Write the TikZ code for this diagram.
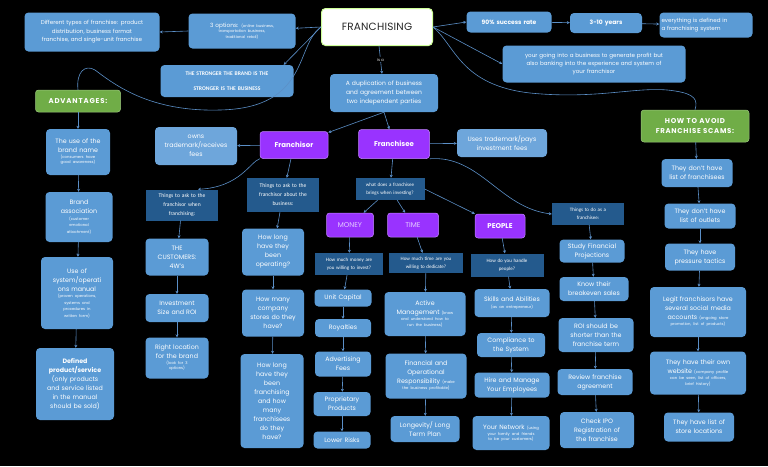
\documentclass[tikz,border=0pt]{standalone}
\usepackage{fontspec}
\setmainfont{Poppins}
\newfontfamily\calibfont{Carlito}
\usepackage{tikz}
\usetikzlibrary{arrows.meta}
\definecolor{boxblue}{HTML}{5B9BD5}
\definecolor{paleblue}{HTML}{6EA6DB}
\definecolor{darkblue}{HTML}{245A8D}
\definecolor{franpurple}{HTML}{9933FF}
\definecolor{advgreen}{HTML}{70AD47}
\definecolor{linkblue}{HTML}{5B8FC7}
\newcommand{\fsz}[2]{\fontsize{#1}{#2}\selectfont}
\newcommand{\notefont}{\fsz{3.8}{5}}

\begin{document}
\begin{tikzpicture}[x=1pt, y=-1pt,
    box/.style={rectangle, rounded corners=4pt, fill=boxblue, text=white,
                align=center, inner sep=2pt, font=\fsz{6.3}{9}},
    qbox/.style={rectangle, fill=darkblue, text=white, align=center,
                 inner sep=2pt, font=\calibfont\fsz{5.6}{9}},
    pbox/.style={rectangle, rounded corners=3pt, fill=franpurple,
                 draw=franpurple!60!white, line width=0.5pt, text=white,
                 align=center, inner sep=2pt, font=\fsz{7}{9}},
    gbox/.style={rectangle, rounded corners=3pt, fill=advgreen,
                 draw=advgreen!70!white, line width=0.5pt, text=white,
                 align=center, inner sep=2pt, font=\bfseries\fsz{7}{10}},
    link/.style={draw=linkblue, line width=0.6pt, -{Stealth[length=3pt,width=3pt]}},
    curve/.style={draw=linkblue, line width=0.6pt}
]
\fill[black] (0,0) rectangle (768,466);
\useasboundingbox (0,0) rectangle (768,466);

% top row
\node[rectangle, rounded corners=4pt, fill=white, draw=green!30!lime!40!white,
      line width=1pt, text=black!85, minimum width=111pt, minimum height=37pt,
      font=\fsz{10.5}{12}] (fr) at (377,27) {\addfontfeatures{LetterSpace=2}FRANCHISING};
\node[box, text width=131pt, minimum height=39pt, font=\fsz{5.6}{8.5}] (types) at (92,32)
    {Different types of franchise: product\\distribution, business format\\franchise, and single-unit franchise};
\node[box, text width=103pt, minimum height=35pt, font=\fsz{5.8}{8}] (opts) at (242,31)
    {3 options: {\notefont(online business,}\\[-2.5pt]{\notefont transportation business,}\\[-2.5pt]{\notefont traditional retail)}};
\node[box, text width=129pt, minimum height=32pt, font=\calibfont\bfseries\fsz{5.6}{15}] (strong) at (227,81)
    {THE STRONGER THE BRAND IS THE\\STRONGER IS THE BUSINESS};
\node[box, text width=104pt, minimum height=38pt, font=\fsz{6}{9}] (dup) at (384,93)
    {A duplication of business\\and agreement between\\two independent parties};
\node[box, text width=81pt, minimum height=21pt, font=\bfseries\fsz{6}{8}] (succ) at (509,22) {90\% success rate};
\node[box, text width=68pt, minimum height=20pt, font=\bfseries\fsz{6}{8}] (yrs) at (606,23) {3-10 years};
\node[box, text width=89pt, minimum height=25pt, align=left, font=\fsz{5.6}{8}] (defd) at (706,25)
    {everything is defined in\\a franchising system};
\node[box, text width=179pt, minimum height=37pt, font=\fsz{5.6}{8}] (going) at (594,64)
    {your going into a business to generate profit but\\also banking into the experience and system of\\your franchisor};

% advantages
\node[gbox, text width=81pt, minimum height=22pt] (adv) at (78,101)
    {\addfontfeatures{LetterSpace=12}ADVANTAGES:};
\node[box, text width=60pt, minimum height=46pt] (brand) at (78,152)
    {The use of the\\brand name\\[-3pt]{\notefont(consumers have}\\[-4pt]{\notefont good awareness)}};
\node[box, text width=63pt, minimum height=50pt] (assoc) at (79,217)
    {Brand\\association\\[-2.5pt]{\notefont(customer}\\[-2.5pt]{\notefont emotional}\\[-2.5pt]{\notefont attachment)}};
\node[box, text width=68pt, minimum height=72pt] (manual) at (77,293)
    {Use of\\system/operati\\ons manual\\[-2.5pt]{\notefont(proven operations,}\\[-2.5pt]{\notefont systems and}\\[-2.5pt]{\notefont procedures in}\\[-2.5pt]{\notefont written form)}};
\node[box, text width=74pt, minimum height=72pt] (defined) at (75,384)
    {\textbf{Defined}\\\textbf{product/service}\\(only products\\and service listed\\in the manual\\should be sold)};

% franchisor
\node[box, fill=paleblue, text width=78pt, minimum height=38pt] (owns) at (196,146)
    {owns\\trademark/receives\\fees};
\node[pbox, text width=64pt, minimum height=27pt] (fsor) at (294,145) {\textbf{Franchisor}};
\node[qbox, text width=68pt, minimum height=31pt] (whenq) at (182,205)
    {Things to ask to the\\franchisor when\\franchising:};
\node[qbox, text width=68pt, minimum height=34pt] (aboutq) at (283,195)
    {Things to ask to the\\franchisor about the\\business:};
\node[box, text width=59pt, minimum height=37pt] (cust) at (177,257) {THE\\CUSTOMERS:\\4W's};
\node[box, text width=59pt, minimum height=28pt] (invest) at (177,308) {Investment\\Size and ROI};
\node[box, text width=59pt, minimum height=41pt] (loc) at (177,358)
    {Right location\\for the brand\\[-3pt]{\notefont(look for 3}\\[-4pt]{\notefont options)}};
\node[box, text width=58pt, minimum height=47pt] (oper) at (273,252) {How long\\have they\\been\\operating?};
\node[box, text width=58pt, minimum height=47pt] (stores) at (273,313) {How many\\company\\stores do they\\have?};
\node[box, text width=59pt, minimum height=94pt] (howlong) at (272,401)
    {How long\\have they\\been\\franchising\\and how\\many\\franchisees\\do they\\have?};

% franchisee
\node[pbox, text width=67pt, minimum height=29pt] (fsee) at (394,144) {\textbf{Franchisee}};
\node[box, fill=paleblue, text width=86pt, minimum height=28pt] (uses) at (502,143)
    {Uses trademark/pays\\investment fees};
\node[qbox, text width=65pt, minimum height=22pt, font=\calibfont\fsz{5}{8}] (bring) at (390,189)
    {what does a franchisee\\brings when investing?};
\node[pbox, text=franpurple!25!white, text width=43pt, minimum height=24pt] (money) at (350,225) {MONEY};
\node[pbox, text=franpurple!25!white, text width=47pt, minimum height=24pt] (time) at (413,225) {TIME};
\node[pbox, text width=46pt, minimum height=24pt] (people) at (500,226) {\textbf{PEOPLE}};
\node[qbox, text width=64pt, minimum height=22pt, font=\calibfont\fsz{5}{8}] (moneyq) at (349,264)
    {How much money are\\you willing to invest?};
\node[qbox, text width=70pt, minimum height=20pt, font=\calibfont\fsz{5}{8}] (timeq) at (426,263)
    {How much time are you\\willing to dedicate?};
\node[qbox, text width=69pt, minimum height=23pt, font=\calibfont\fsz{5}{8}] (peopleq) at (507,265)
    {How do you handle\\people?};
\node[qbox, text width=68pt, minimum height=22pt, font=\calibfont\fsz{5}{8}] (todo) at (588,214)
    {Things to do as a\\franchisee:};

\node[box, text width=53pt, minimum height=17pt] (unit) at (343,298) {Unit Capital};
\node[box, text width=52pt, minimum height=18pt] (roy) at (343,328) {Royalties};
\node[box, text width=52pt, minimum height=25pt] (ads) at (343,364) {Advertising\\Fees};
\node[box, text width=53pt, minimum height=24pt] (prop) at (342,404) {Proprietary\\Products};
\node[box, text width=53pt, minimum height=17pt] (risk) at (342,440) {Lower Risks};

\node[box, text width=77pt, minimum height=44pt] (active) at (425,314)
    {Active\\Management {\notefont(know}\\[-3pt]{\notefont and understand how to}\\[-3.5pt]{\notefont run the business)}};
\node[box, text width=77pt, minimum height=45pt] (resp) at (426,376)
    {Financial and\\Operational\\Responsibility {\notefont(make}\\[-3pt]{\notefont the business profitable)}};
\node[box, text width=65pt, minimum height=26pt] (longev) at (425,429) {Longevity/ Long\\Term Plan};

\node[box, text width=71pt, minimum height=28pt] (skills) at (512,303)
    {Skills and Abilities\\[-2pt]{\notefont(as an entrepreneur)}};
\node[box, text width=64pt, minimum height=24pt] (comply) at (511,345) {Compliance to\\the System};
\node[box, text width=71pt, minimum height=25pt] (hire) at (512,385) {Hire and Manage\\Your Employees};
\node[box, text width=73pt, minimum height=34pt] (network) at (511,433)
    {Your Network {\notefont(using}\\[-3pt]{\notefont your family and friends}\\[-3.5pt]{\notefont to be your customers)}};

\node[box, text width=61pt, minimum height=23pt] (study) at (592,251) {Study Financial\\Projections};
\node[box, text width=65pt, minimum height=24pt] (breakeven) at (594,289) {Know their\\breakeven sales};
\node[box, text width=71pt, minimum height=34pt] (roi) at (596,335) {ROI should be\\shorter than the\\franchise term};
\node[box, text width=71pt, minimum height=26pt] (review) at (595,382) {Review franchise\\agreement};
\node[box, text width=70pt, minimum height=36pt] (ipo) at (597,430) {Check IPO\\Registration of\\the franchise};

% scams
\node[gbox, text width=104pt, minimum height=32pt] (avoid) at (695,126)
    {\addfontfeatures{LetterSpace=10}HOW TO AVOID\\FRANCHISE SCAMS:};
\node[box, text width=67pt, minimum height=28pt] (s1) at (697,173) {They don't have\\list of franchisees};
\node[box, text width=67pt, minimum height=25pt] (s2) at (700,216) {They don't have\\list of outlets};
\node[box, text width=66pt, minimum height=27pt] (s3) at (700,257) {They have\\pressure tactics};
\node[box, text width=92pt, minimum height=50pt] (s4) at (698,312)
    {Legit franchisors have\\several social media\\accounts {\notefont(ongoing store}\\[-3pt]{\notefont promotion, list of products)}};
\node[box, text width=92pt, minimum height=43pt] (s5) at (698,373)
    {They have their own\\website {\notefont(company profile}\\[-3pt]{\notefont can be seen, list of officers,}\\[-3.5pt]{\notefont brief history)}};
\node[box, text width=66pt, minimum height=29pt] (s6) at (699,427) {They have list of\\store locations};

% connectors
\draw[link] (fr.west) -- (opts);
\draw[link] (opts.west) -- (types.east);
\draw[link] (fr.west) -- ([xshift=-10pt]strong.north east);
\draw[link] (fr.east) -- (succ.west);
\draw[link] (succ) -- (yrs);
\draw[link] (yrs) -- (defd);
\draw[link] (fr.east) -- (going.west);
\draw[link] (fr) -- node[fill=black, text=white!80!gray, inner sep=1pt, font=\fsz{4}{5}] {is a} (dup);
\draw[link] (dup.south) -- (fsor);
\draw[link] (dup.south) -- (fsee);
\draw[curve] (fr.west) .. controls (295,45) and (310,108) .. (220,110)
    .. controls (150,112) and (115,85) .. (95,70) .. controls (85,64) and (76,72) .. (adv.north);
\draw[curve] (fr.east) .. controls (455,45) and (460,85) .. (530,93)
    .. controls (600,100) and (640,85) .. (675,91) .. controls (695,94) and (698,100) .. (avoid.north);

\draw[link] (adv) -- (brand);
\draw[link] (brand) -- (assoc);
\draw[link] (assoc) -- (manual);
\draw[link] (manual) -- (defined);

\draw[link] (fsor) -- (owns);
\draw[link] (fsor) -- (aboutq);
\draw[link] (fsor.south west) .. controls (250,162) and (240,187) .. ([xshift=16pt]whenq.north);
\draw[link] (whenq) -- (cust);
\draw[link] (cust) -- (invest);
\draw[link] (invest) -- (loc);
\draw[link] (aboutq) -- (oper);
\draw[link] (oper) -- (stores);
\draw[link] (stores) -- (howlong);

\draw[link] (fsee) -- (uses);
\draw[link] (fsee) -- (bring);
\draw[link] (fsee.south east) .. controls (480,155) and (500,208) .. (todo.west);
\draw[link] (bring) -- (money);
\draw[link] (bring) -- (time);
\draw[link] (bring.east) -- (people.north west);
\draw[link] (money) -- (moneyq);
\draw[link] (time) -- (timeq);
\draw[link] (people) -- (peopleq);
\draw[link] (moneyq) -- (unit);
\draw[link] (unit) -- (roy);
\draw[link] (roy) -- (ads);
\draw[link] (ads) -- (prop);
\draw[link] (prop) -- (risk);
\draw[link] (timeq) -- (active);
\draw[link] (active) -- (resp);
\draw[link] (resp) -- (longev);
\draw[link] (peopleq) -- (skills);
\draw[link] (skills) -- (comply);
\draw[link] (comply) -- (hire);
\draw[link] (hire) -- (network);
\draw[link] (todo) -- (study);
\draw[link] (study) -- (breakeven);
\draw[link] (breakeven) -- (roi);
\draw[link] (roi) -- (review);
\draw[link] (review) -- (ipo);

\draw[link] (avoid) -- (s1);
\draw[link] (s1) -- (s2);
\draw[link] (s2) -- (s3);
\draw[link] (s3) -- (s4);
\draw[link] (s4) -- (s5);
\draw[link] (s5) -- (s6);
\end{tikzpicture}
\end{document}
